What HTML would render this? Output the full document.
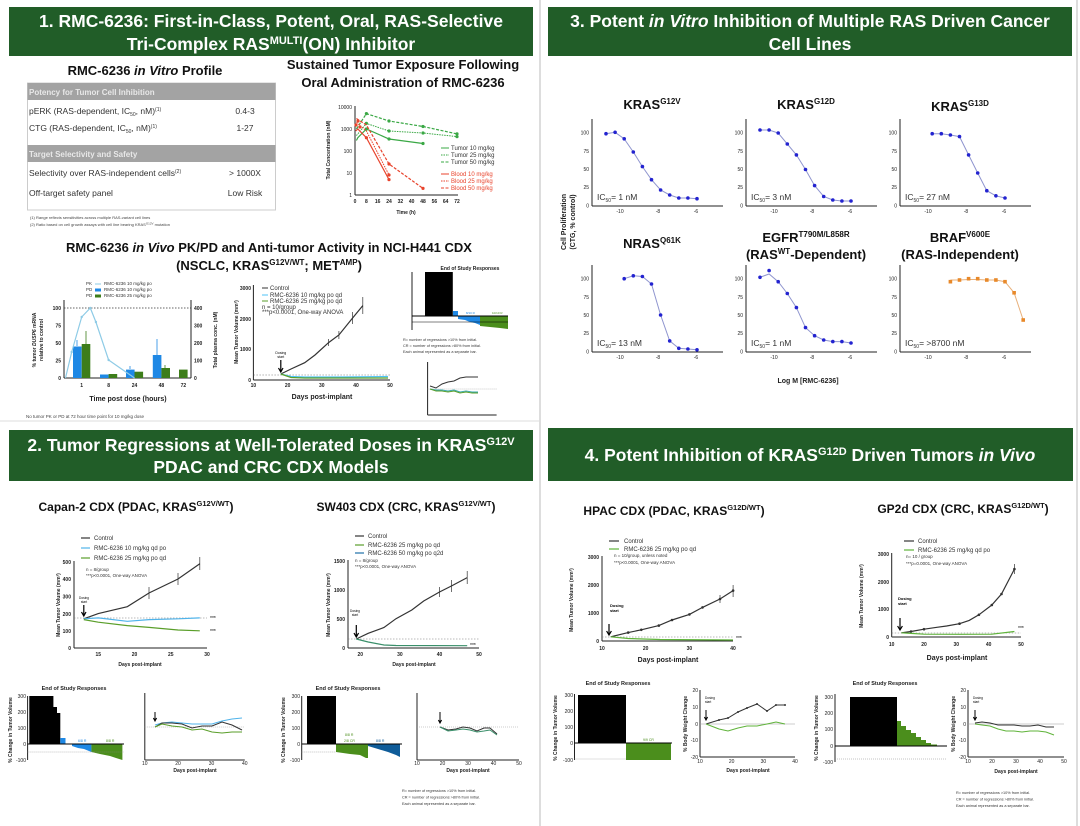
<!DOCTYPE html>
<html><head><meta charset="utf-8"><style>
html,body{margin:0;padding:0;background:#fff;}
svg{display:block;font-family:"Liberation Sans",Arial,sans-serif;}
.h{fill:#fff;font-weight:bold;font-size:17.5px;text-anchor:middle;}
.t{font-weight:bold;font-size:13px;text-anchor:middle;fill:#111;}
.ct{font-weight:bold;font-size:12px;fill:#111;}
.ax{stroke:#222;stroke-width:1;fill:none;}
.tk{font-size:5px;fill:#222;}
.tkm{font-size:5px;fill:#222;text-anchor:middle;}
.tkr{font-size:5px;fill:#222;text-anchor:end;}
.lg{font-size:6px;fill:#333;}
.sm{font-size:4.5px;fill:#333;}
.xl{font-size:7px;font-weight:bold;fill:#222;text-anchor:middle;}
.xls{font-size:5px;font-weight:bold;fill:#222;text-anchor:middle;}
.pt{fill:#2323d0;}
.cv{stroke:#8f95cf;stroke-width:1;fill:none;}
</style></head><body>
<svg width="1080" height="826" viewBox="0 0 1080 826" xmlns="http://www.w3.org/2000/svg">
<rect width="1080" height="826" fill="#fff"/>
<!-- dividers -->
<line x1="540" y1="0" x2="540" y2="826" stroke="#bbb" stroke-width="1"/>
<line x1="1077" y1="0" x2="1077" y2="826" stroke="#bbb" stroke-width="1"/>
<line x1="0" y1="421" x2="540" y2="421" stroke="#ddd" stroke-width="1"/>

<!-- HEADERS -->
<rect x="9" y="7" width="524" height="49" fill="#215d28"/>
<text class="h" x="271" y="27">1. RMC-6236: First-in-Class, Potent, Oral, RAS-Selective</text>
<text class="h" x="271" y="50">Tri-Complex RAS<tspan font-size="11" dy="-6">MULTI</tspan><tspan dy="6">(ON) Inhibitor</tspan></text>

<rect x="548" y="7" width="524" height="49" fill="#215d28"/>
<text class="h" x="810" y="27">3. Potent <tspan font-style="italic">in Vitro</tspan> Inhibition of Multiple RAS Driven Cancer</text>
<text class="h" x="810" y="50">Cell Lines</text>

<rect x="9" y="430" width="524" height="51" fill="#215d28"/>
<text class="h" x="271" y="451">2. Tumor Regressions at Well-Tolerated Doses in KRAS<tspan font-size="11" dy="-6">G12V</tspan></text>
<text class="h" x="271" y="473">PDAC and CRC CDX Models</text>

<rect x="548" y="428" width="525" height="53" fill="#215d28"/>
<text class="h" x="810" y="461">4. Potent Inhibition of KRAS<tspan font-size="11" dy="-6">G12D</tspan><tspan dy="6"> Driven Tumors </tspan><tspan font-style="italic">in Vivo</tspan></text>

<!-- ============ SECTION 1 ============ -->
<text class="t" x="145" y="75">RMC-6236 <tspan font-style="italic">in Vitro</tspan> Profile</text>
<rect x="27.5" y="83" width="248" height="127" fill="#fff" stroke="#ccc"/>
<rect x="27.5" y="83" width="248" height="17" fill="#a3a3a3"/>
<text x="29" y="95" font-size="8" font-weight="bold" fill="#e8e8e8">Potency for Tumor Cell Inhibition</text>
<text x="29" y="114" font-size="8.5" fill="#333">pERK (RAS-dependent, IC<tspan font-size="5" dy="2">50</tspan><tspan dy="-2">, nM)</tspan><tspan font-size="5" dy="-3">(1)</tspan></text>
<text x="245" y="114" font-size="8.5" fill="#333" text-anchor="middle">0.4-3</text>
<text x="29" y="131" font-size="8.5" fill="#333">CTG (RAS-dependent, IC<tspan font-size="5" dy="2">50</tspan><tspan dy="-2">, nM)</tspan><tspan font-size="5" dy="-3">(1)</tspan></text>
<text x="245" y="131" font-size="8.5" fill="#333" text-anchor="middle">1-27</text>
<rect x="27.5" y="145" width="248" height="17" fill="#a3a3a3"/>
<text x="29" y="157" font-size="8" font-weight="bold" fill="#e8e8e8">Target Selectivity and Safety</text>
<text x="29" y="176" font-size="8.5" fill="#333">Selectivity over RAS-independent cells<tspan font-size="5" dy="-3">(2)</tspan></text>
<text x="245" y="176" font-size="8.5" fill="#333" text-anchor="middle">&gt; 1000X</text>
<text x="29" y="196" font-size="8.5" fill="#333">Off-target safety panel</text>
<text x="245" y="196" font-size="8.5" fill="#333" text-anchor="middle">Low Risk</text>
<text x="30" y="219" font-size="4" fill="#444">(1) Range reflects sensitivities across multiple RAS-variant cell lines</text>
<text x="30" y="226" font-size="4" fill="#444">(2) Ratio based on cell growth assays with cell line bearing KRAS<tspan font-size="3" dy="-1.5">G12V</tspan><tspan dy="1.5"> mutation</tspan></text>

<text class="t" x="403" y="69">Sustained Tumor Exposure Following</text>
<text class="t" x="403" y="87">Oral Administration of RMC-6236</text>
<!-- PK chart -->
<g>
<line class="ax" x1="355" y1="106" x2="355" y2="195"/>
<line class="ax" x1="355" y1="195" x2="458" y2="195"/>
<text class="tkr" x="352" y="109">10000</text><text class="tkr" x="352" y="131">1000</text><text class="tkr" x="352" y="153">100</text><text class="tkr" x="352" y="175">10</text><text class="tkr" x="352" y="197">1</text>
<g class="tkm" font-weight="bold"><text x="355" y="203">0</text><text x="366.4" y="203">8</text><text x="377.7" y="203">16</text><text x="389" y="203">24</text><text x="400.4" y="203">32</text><text x="411.7" y="203">40</text><text x="423" y="203">48</text><text x="434.4" y="203">56</text><text x="445.7" y="203">64</text><text x="457" y="203">72</text></g>
<text class="xls" x="406" y="214">Time (h)</text>
<text class="xls" transform="translate(330,150) rotate(-90)">Total Concentration (nM)</text>
<polyline fill="none" stroke="#3aa845" stroke-width="1.2" points="356.4,140.5 357.8,137.7 366.4,129 389,139 423,143.5"/>
<polyline fill="none" stroke="#3aa845" stroke-width="1" stroke-dasharray="1.5,1" points="356.4,135.6 366.4,123.4 389,131 423,133 457,136.6"/>
<polyline fill="none" stroke="#3aa845" stroke-width="1.2" stroke-dasharray="3,1.5" points="356.4,129 366.4,113.6 389,121 423,126.5 457,133.9"/>
<g fill="#3aa845"><circle cx="366.4" cy="129" r="1.6"/><circle cx="389" cy="139" r="1.6"/><circle cx="423" cy="143.5" r="1.6"/><circle cx="366.4" cy="123.4" r="1.6"/><circle cx="389" cy="131" r="1.6"/><circle cx="423" cy="133" r="1.6"/><circle cx="457" cy="136.6" r="1.6"/><circle cx="366.4" cy="113.6" r="1.6"/><circle cx="389" cy="121" r="1.6"/><circle cx="423" cy="126.5" r="1.6"/><circle cx="457" cy="133.9" r="1.6"/></g>
<polyline fill="none" stroke="#e8432c" stroke-width="1.2" points="355.7,131 357.8,129 366.4,137.7 389,179.6"/>
<polyline fill="none" stroke="#e8432c" stroke-width="1" stroke-dasharray="1.5,1" points="356.4,122.4 366.4,131 389,175"/>
<polyline fill="none" stroke="#e8432c" stroke-width="1.2" stroke-dasharray="3,1.5" points="356.4,118.5 366.4,125 389,164 423,188.4"/>
<g fill="#e8432c"><circle cx="356" cy="125" r="1.6"/><circle cx="358" cy="121" r="1.6"/><circle cx="360" cy="127" r="1.6"/><circle cx="366.4" cy="137.7" r="1.6"/><circle cx="389" cy="179.6" r="1.6"/><circle cx="389" cy="175" r="1.6"/><circle cx="389" cy="164" r="1.6"/><circle cx="423" cy="188.4" r="1.6"/></g>
<g class="lg" font-size="5.5">
<line x1="441" y1="148" x2="449" y2="148" stroke="#3aa845"/><text x="451" y="150">Tumor 10 mg/kg</text>
<line x1="441" y1="155" x2="449" y2="155" stroke="#3aa845" stroke-dasharray="1.5,1"/><text x="451" y="157">Tumor 25 mg/kg</text>
<line x1="441" y1="162" x2="449" y2="162" stroke="#3aa845" stroke-dasharray="3,1.5"/><text x="451" y="164">Tumor 50 mg/kg</text>
<line x1="441" y1="174" x2="449" y2="174" stroke="#e8432c"/><text x="451" y="176" fill="#e8432c">Blood 10 mg/kg</text>
<line x1="441" y1="181" x2="449" y2="181" stroke="#e8432c" stroke-dasharray="1.5,1"/><text x="451" y="183" fill="#e8432c">Blood 25 mg/kg</text>
<line x1="441" y1="188" x2="449" y2="188" stroke="#e8432c" stroke-dasharray="3,1.5"/><text x="451" y="190" fill="#e8432c">Blood 50 mg/kg</text>
</g>
</g>

<text class="t" x="269" y="252">RMC-6236 <tspan font-style="italic">in Vivo</tspan> PK/PD and Anti-tumor Activity in NCI-H441 CDX</text>
<text class="t" x="269" y="270">(NSCLC, KRAS<tspan font-size="8" dy="-5">G12V/WT</tspan><tspan dy="5">; MET</tspan><tspan font-size="8" dy="-5">AMP</tspan><tspan dy="5">)</tspan></text>

<!-- PD chart -->
<g>
<line class="ax" x1="64" y1="300" x2="64" y2="378"/>
<line class="ax" x1="191" y1="300" x2="191" y2="378"/>
<line class="ax" x1="64" y1="378" x2="191" y2="378"/>
<line x1="64" y1="308" x2="191" y2="308" stroke="#333" stroke-width="0.7" stroke-dasharray="1.5,1.5"/>
<g class="tkr" font-weight="bold"><text x="61" y="310">100</text><text x="61" y="327.5">75</text><text x="61" y="345">50</text><text x="61" y="362.5">25</text><text x="61" y="380">0</text></g>
<g class="tk" font-weight="bold"><text x="194" y="310">400</text><text x="194" y="327.5">300</text><text x="194" y="345">200</text><text x="194" y="362.5">100</text><text x="194" y="380">0</text></g>
<rect x="73" y="346.5" width="8.6" height="31.5" fill="#1e88e5"/><rect x="81.7" y="344" width="8.6" height="34" fill="#3d7d1a"/>
<rect x="100" y="374.5" width="8.6" height="3.5" fill="#1e88e5"/><rect x="108.6" y="374" width="8.6" height="4" fill="#3d7d1a"/>
<rect x="126" y="369.6" width="8.6" height="8.4" fill="#1e88e5"/><rect x="134.5" y="371.7" width="8.6" height="6.3" fill="#3d7d1a"/>
<rect x="152.8" y="355" width="8.6" height="23" fill="#1e88e5"/><rect x="161.4" y="368" width="8.6" height="10" fill="#3d7d1a"/>
<rect x="179" y="369.6" width="8.6" height="8.4" fill="#3d7d1a"/>
<g stroke="#1e88e5" stroke-width="0.8"><line x1="77" y1="346" x2="77" y2="340"/><line x1="157" y1="355" x2="157" y2="339"/><line x1="130" y1="369" x2="130" y2="366"/></g>
<g stroke="#3d7d1a" stroke-width="0.8"><line x1="86" y1="344" x2="86" y2="331"/><line x1="165" y1="368" x2="165" y2="365"/></g>
<polyline fill="none" stroke="#8ecbe6" stroke-width="1.2" points="65.5,378 71.7,352 81.7,317 90.3,308 95.9,322 108.6,360 134.5,378"/>
<g fill="#8ecbe6"><circle cx="71.7" cy="352" r="1.2"/><circle cx="81.7" cy="317" r="1.2"/><circle cx="90.3" cy="308" r="1.2"/><circle cx="95.9" cy="322" r="1.2"/><circle cx="108.6" cy="360" r="1.2"/></g>
<g class="tkm" font-size="6" font-weight="bold"><text x="81.7" y="387">1</text><text x="108.6" y="387">8</text><text x="134.5" y="387">24</text><text x="161.4" y="387">48</text><text x="183.4" y="387">72</text></g>
<text class="xl" x="128" y="401">Time post dose (hours)</text>
<text class="xls" transform="translate(36,340) rotate(-90)">% tumor <tspan font-style="italic">DUSP6</tspan> mRNA</text>
<text class="xls" transform="translate(43,340) rotate(-90)">relative to control</text>
<text class="xls" transform="translate(217,340) rotate(-90)">Total plasma conc. (nM)</text>
<g class="sm" font-size="3.5"><text x="86" y="285">PK</text><line x1="95" y1="284" x2="101" y2="284" stroke="#8ecbe6"/><text x="104" y="285">RMC-6236 10 mg/kg po</text>
<text x="86" y="291">PD</text><rect x="95" y="288.5" width="6" height="3" fill="#1e88e5"/><text x="104" y="291">RMC-6236 10 mg/kg po</text>
<text x="86" y="297">PD</text><rect x="95" y="294.5" width="6" height="3" fill="#3d7d1a"/><text x="104" y="297">RMC-6236 25 mg/kg po</text></g>
</g>
<text x="26" y="418" font-size="4.5" fill="#444">No tumor PK or PD at 72 hour time point for 10 mg/kg dose</text>

<!-- H441 tumor volume -->
<g>
<line class="ax" x1="253.4" y1="285" x2="253.4" y2="380"/>
<line class="ax" x1="253.4" y1="380" x2="390" y2="380"/>
<g class="tkr" font-weight="bold"><text x="251" y="290">3000</text><text x="251" y="321">2000</text><text x="251" y="351">1000</text><text x="251" y="382">0</text></g>
<g class="tkm" font-weight="bold"><text x="253.4" y="387">10</text><text x="287.6" y="387">20</text><text x="321.8" y="387">30</text><text x="356" y="387">40</text><text x="390" y="387">50</text></g>
<text class="xl" x="322" y="399" font-size="6">Days post-implant</text>
<text class="xls" transform="translate(238,332) rotate(-90)">Mean Tumor Volume (mm³)</text>
<line x1="253.4" y1="375" x2="390" y2="375" stroke="#666" stroke-width="0.6" stroke-dasharray="1.5,1.5"/>
<polyline fill="none" stroke="#333" stroke-width="1.2" points="280.8,374 291,369 304.7,362.7 315,355 328.6,342.6 338.9,335 352.6,318 362.8,305.6"/>
<g stroke="#333" stroke-width="0.7"><line x1="362.8" y1="297" x2="362.8" y2="314"/><line x1="352.6" y1="312" x2="352.6" y2="324"/><line x1="338.9" y1="331" x2="338.9" y2="339"/><line x1="328.6" y1="339" x2="328.6" y2="346"/></g>
<polyline fill="none" stroke="#4fc3f7" stroke-width="1.2" points="280.8,374 291,376.5 304.7,377 340,377 388,376.5"/>
<polyline fill="none" stroke="#5a9e2a" stroke-width="1.2" points="280.8,374 291,377.5 304.7,378 340,378 388,378"/>
<path d="M280.8,360 L280.8,371 M278.5,368 L280.8,372 L283,368" stroke="#000" fill="none" stroke-width="1.2"/>
<text x="280.8" y="354" font-size="3.5" text-anchor="middle">Dosing</text><text x="280.8" y="358" font-size="3.5" text-anchor="middle">start</text>
<g class="lg" font-size="4.5"><line x1="262" y1="288" x2="268" y2="288" stroke="#333"/><text x="270" y="290">Control</text>
<line x1="262" y1="295" x2="268" y2="295" stroke="#4fc3f7"/><text x="270" y="297">RMC-6236 10 mg/kg po qd</text>
<line x1="262" y1="301" x2="268" y2="301" stroke="#5a9e2a"/><text x="270" y="303">RMC-6236 25 mg/kg po qd</text>
<text x="262" y="309">n = 10/group</text><text x="262" y="314">***p&lt;0.0001, One-way ANOVA</text></g>
</g>

<!-- H441 waterfall -->
<text x="470" y="270" font-size="5" font-weight="bold" text-anchor="middle" fill="#222">End of Study Responses</text>
<line class="ax" x1="412" y1="272" x2="412" y2="330"/>
<rect x="425" y="272" width="27.8" height="44" fill="#000"/>
<path d="M453,316 L453,311 L458,311 L458,316 Z" fill="#1e88e5"/>
<path d="M458,316 L458,319 L465,320 L470,322 L475,323 L480,325 L480,316 Z" fill="#1e88e5"/>
<path d="M480,316 L480,326 L490,327 L500,328 L508,329 L508,316 Z" fill="#4b8e1c"/>
<line x1="412" y1="316" x2="508" y2="316" stroke="#000" stroke-width="1"/>
<line x1="412" y1="322" x2="508" y2="322" stroke="#000" stroke-width="0.5"/>
<text x="466" y="314" font-size="3" fill="#1e88e5">8/10 R</text><text x="492" y="314" font-size="3" fill="#4b8e1c">10/10 R</text>
<g font-size="3.8" fill="#333"><text x="403" y="341">R= number of regressions &gt;10% from initial.</text><text x="403" y="347">CR = number of regressions &gt;80% from initial.</text><text x="403" y="353">Each animal represented as a separate bar.</text></g>
<!-- H441 BW -->
<line class="ax" x1="427.6" y1="362" x2="427.6" y2="415"/><line class="ax" x1="427.6" y1="415" x2="496.6" y2="415"/>
<line x1="427.6" y1="389" x2="496.6" y2="389" stroke="#999" stroke-width="0.5" stroke-dasharray="1,1"/>
<polyline fill="none" stroke="#333" stroke-width="1" points="430,386 436,388 442,384 448,382 454,381 460,378 466,377 472,377 478,377"/>
<polyline fill="none" stroke="#3aaab0" stroke-width="1" points="430,389 436,390 442,390 448,391 454,390 460,392 466,391 472,392 478,392"/>
<polyline fill="none" stroke="#5a9e2a" stroke-width="1" points="430,389 436,391 442,391 448,392 454,391 460,393 466,392 472,393 478,393"/>

<!-- ============ SECTION 3 ============ -->
<text class="xl" transform="translate(566,222) rotate(-90)" font-size="8">Cell Proliferation</text>
<text class="xl" transform="translate(575,222) rotate(-90)" font-size="8">(CTG, % control)</text>
<text class="xl" x="808" y="383" font-size="8.5">Log M [RMC-6236]</text>

<text class="t" x="652" y="109">KRAS<tspan font-size="8" dy="-5">G12V</tspan></text>
<text class="t" x="806" y="109">KRAS<tspan font-size="8" dy="-5">G12D</tspan></text>
<text class="t" x="960" y="111">KRAS<tspan font-size="8" dy="-5">G13D</tspan></text>
<text class="t" x="652" y="248">NRAS<tspan font-size="8" dy="-5">Q61K</tspan></text>
<text class="t" x="806" y="242">EGFR<tspan font-size="8" dy="-5">T790M/L858R</tspan></text>
<text class="t" x="806" y="259">(RAS<tspan font-size="8" dy="-5">WT</tspan><tspan dy="5">-Dependent)</tspan></text>
<text class="t" x="960" y="242">BRAF<tspan font-size="8" dy="-5">V600E</tspan></text>
<text class="t" x="960" y="259">(RAS-Independent)</text>

<!-- panel frames: row1 -->
<g id="p1">
<line class="ax" x1="592" y1="119" x2="592" y2="206"/><line class="ax" x1="592" y1="206" x2="723" y2="206"/>
<g class="tkr" font-size="4"><text x="589" y="134.5">100</text><text x="589" y="152.8">75</text><text x="589" y="171">50</text><text x="589" y="189">25</text><text x="589" y="207.5">0</text></g>
<g class="tkm" font-size="4"><text x="620" y="213">-10</text><text x="658" y="213">-8</text><text x="696" y="213">-6</text></g>
</g>
<use href="#p1" x="154"/><use href="#p1" x="308"/>
<use href="#p1" y="146"/><use href="#p1" x="154" y="146"/><use href="#p1" x="308" y="146"/>

<g font-size="8.5" fill="#333">
<text x="597" y="200">IC<tspan font-size="5" dy="2">50</tspan><tspan dy="-2">= 1 nM</tspan></text>
<text x="751" y="200">IC<tspan font-size="5" dy="2">50</tspan><tspan dy="-2">= 3 nM</tspan></text>
<text x="905" y="200">IC<tspan font-size="5" dy="2">50</tspan><tspan dy="-2">= 27 nM</tspan></text>
<text x="597" y="346">IC<tspan font-size="5" dy="2">50</tspan><tspan dy="-2">= 13 nM</tspan></text>
<text x="751" y="346">IC<tspan font-size="5" dy="2">50</tspan><tspan dy="-2">= 1 nM</tspan></text>
<text x="905" y="346">IC<tspan font-size="5" dy="2">50</tspan><tspan dy="-2">= &gt;8700 nM</tspan></text>
</g>

<!-- KRAS G12V -->
<polyline class="cv" points="606,133.7 615.1,132.3 624.2,138.8 633.3,152 642.4,166.6 651.5,179.7 660.6,190 669.7,195 678.8,198 687.9,198 697,198.7"/>
<g class="pt"><circle cx="606" cy="133.7" r="1.8"/><circle cx="615.1" cy="132.3" r="1.8"/><circle cx="624.2" cy="138.8" r="1.8"/><circle cx="633.3" cy="152" r="1.8"/><circle cx="642.4" cy="166.6" r="1.8"/><circle cx="651.5" cy="179.7" r="1.8"/><circle cx="660.6" cy="190" r="1.8"/><circle cx="669.7" cy="195" r="1.8"/><circle cx="678.8" cy="198" r="1.8"/><circle cx="687.9" cy="198" r="1.8"/><circle cx="697" cy="198.7" r="1.8"/></g>
<!-- KRAS G12D -->
<g transform="translate(154,0)">
<polyline class="cv" points="606,130 615.1,130 624.2,133 633.3,144 642.4,154.9 651.5,169.5 660.6,185.6 669.7,196.5 678.8,200 687.9,201 697,201"/>
<g class="pt"><circle cx="606" cy="130" r="1.8"/><circle cx="615.1" cy="130" r="1.8"/><circle cx="624.2" cy="133" r="1.8"/><circle cx="633.3" cy="144" r="1.8"/><circle cx="642.4" cy="154.9" r="1.8"/><circle cx="651.5" cy="169.5" r="1.8"/><circle cx="660.6" cy="185.6" r="1.8"/><circle cx="669.7" cy="196.5" r="1.8"/><circle cx="678.8" cy="200" r="1.8"/><circle cx="687.9" cy="201" r="1.8"/><circle cx="697" cy="201" r="1.8"/></g>
</g>
<!-- KRAS G13D -->
<g transform="translate(308,0)">
<polyline class="cv" points="624.2,133.7 633.3,133.7 642.4,135 651.5,136.6 660.6,154.9 669.7,173 678.8,190.7 687.9,195.8 697,198"/>
<g class="pt"><circle cx="624.2" cy="133.7" r="1.8"/><circle cx="633.3" cy="133.7" r="1.8"/><circle cx="642.4" cy="135" r="1.8"/><circle cx="651.5" cy="136.6" r="1.8"/><circle cx="660.6" cy="154.9" r="1.8"/><circle cx="669.7" cy="173" r="1.8"/><circle cx="678.8" cy="190.7" r="1.8"/><circle cx="687.9" cy="195.8" r="1.8"/><circle cx="697" cy="198" r="1.8"/></g>
</g>
<!-- NRAS -->
<polyline class="cv" points="624.2,278.7 633.3,275.8 642.4,276.5 651.5,284 660.6,315 669.7,340.9 678.8,348.3 687.9,349 697,349.8"/>
<g class="pt"><circle cx="624.2" cy="278.7" r="1.8"/><circle cx="633.3" cy="275.8" r="1.8"/><circle cx="642.4" cy="276.5" r="1.8"/><circle cx="651.5" cy="284" r="1.8"/><circle cx="660.6" cy="315" r="1.8"/><circle cx="669.7" cy="340.9" r="1.8"/><circle cx="678.8" cy="348.3" r="1.8"/><circle cx="687.9" cy="349" r="1.8"/><circle cx="697" cy="349.8" r="1.8"/></g>
<!-- EGFR -->
<g transform="translate(154,0)">
<polyline class="cv" points="606,277.3 615.1,274 624.2,281.7 633.3,293.5 642.4,307.6 651.5,327.6 660.6,335.7 669.7,340 678.8,341.6 687.9,341.6 697,343"/>
<g class="pt"><circle cx="606" cy="277.3" r="1.8"/><circle cx="615.1" cy="270.6" r="1.8"/><circle cx="624.2" cy="281.7" r="1.8"/><circle cx="633.3" cy="293.5" r="1.8"/><circle cx="642.4" cy="307.6" r="1.8"/><circle cx="651.5" cy="327.6" r="1.8"/><circle cx="660.6" cy="335.7" r="1.8"/><circle cx="669.7" cy="340" r="1.8"/><circle cx="678.8" cy="341.6" r="1.8"/><circle cx="687.9" cy="341.6" r="1.8"/><circle cx="697" cy="343" r="1.8"/></g>
</g>
<!-- BRAF -->
<g transform="translate(308,0)">
<polyline fill="none" stroke="#e8b07a" stroke-width="1" points="642.4,280 651.5,280 660.6,279.5 669.7,279.5 678.8,280 687.9,280 697,281.7 706.1,292.8 715.2,320"/>
<g fill="#e8892a"><rect x="640.6" y="279.9" width="3.6" height="3.6"/><rect x="649.7" y="278.2" width="3.6" height="3.6"/><rect x="658.8" y="276.9" width="3.6" height="3.6"/><rect x="667.9" y="276.9" width="3.6" height="3.6"/><rect x="677" y="278.2" width="3.6" height="3.6"/><rect x="686.1" y="278.2" width="3.6" height="3.6"/><rect x="695.2" y="279.9" width="3.6" height="3.6"/><rect x="704.3" y="291" width="3.6" height="3.6"/><rect x="713.4" y="318.2" width="3.6" height="3.6"/></g>
</g>

<!-- ============ SECTION 2 ============ -->
<text class="ct" x="136" y="511" text-anchor="middle">Capan-2 CDX (PDAC, KRAS<tspan font-size="7.5" dy="-5">G12V/WT</tspan><tspan dy="5">)</tspan></text>
<text class="ct" x="406" y="511" text-anchor="middle">SW403 CDX (CRC, KRAS<tspan font-size="7.5" dy="-5">G12V/WT</tspan><tspan dy="5">)</tspan></text>
<!-- Capan chart -->
<line class="ax" x1="74" y1="561" x2="74" y2="648"/><line class="ax" x1="74" y1="648" x2="207" y2="648"/>
<g class="tkr" font-weight="bold"><text x="71" y="564">500</text><text x="71" y="581">400</text><text x="71" y="598.5">300</text><text x="71" y="616">200</text><text x="71" y="633">100</text><text x="71" y="650">0</text></g>
<g class="tkm" font-weight="bold"><text x="98.3" y="656">15</text><text x="134.5" y="656">20</text><text x="170.8" y="656">25</text><text x="207" y="656">30</text></g>
<text class="xls" x="140" y="666" font-size="5.5">Days post-implant</text>
<text class="xls" transform="translate(60,605) rotate(-90)">Mean Tumor Volume (mm³)</text>
<line x1="74" y1="618" x2="207" y2="618" stroke="#777" stroke-width="0.6" stroke-dasharray="1.5,1.5"/>
<polyline fill="none" stroke="#333" stroke-width="1.2" points="83.8,618.8 98.3,613.6 127.3,606.7 149,593 178,579 199.8,563.7"/>
<polyline fill="none" stroke="#4fb3ea" stroke-width="1.2" points="83.8,618.8 98.3,617.9 127.3,621.3 149,619.6 178,618.8 199.8,617.9"/>
<polyline fill="none" stroke="#5a9e2a" stroke-width="1.2" points="83.8,619.6 98.3,622.2 127.3,625.6 149,627.4 178,630 199.8,630.8"/>
<g stroke="#333" stroke-width="0.7"><line x1="149" y1="587" x2="149" y2="599"/><line x1="178" y1="573" x2="178" y2="585"/><line x1="199.8" y1="557" x2="199.8" y2="570"/></g>
<text x="210" y="620" font-size="5">***</text><text x="210" y="633" font-size="5">***</text>
<path d="M83.8,605 L83.8,615 M81.5,612 L83.8,616 L86,612" stroke="#000" fill="none" stroke-width="1.2"/>
<text x="84" y="599" font-size="3.2" text-anchor="middle">Dosing</text><text x="84" y="603" font-size="3.2" text-anchor="middle">start</text>
<g class="lg"><line x1="81" y1="538" x2="90" y2="538" stroke="#333" stroke-width="1.2"/><text x="94" y="540">Control</text>
<line x1="81" y1="548" x2="90" y2="548" stroke="#4fb3ea" stroke-width="1.2"/><text x="94" y="550">RMC-6236 10 mg/kg qd po</text>
<line x1="81" y1="558" x2="90" y2="558" stroke="#5a9e2a" stroke-width="1.2"/><text x="94" y="560">RMC-6236 25 mg/kg po qd</text>
<text x="86" y="571" font-size="4.5">n = 8/group</text><text x="86" y="577" font-size="4.5">***p&lt;0.0001, One-way ANOVA</text></g>
<!-- SW403 chart -->
<line class="ax" x1="348" y1="560" x2="348" y2="648"/><line class="ax" x1="348" y1="648" x2="479" y2="648"/>
<g class="tkr" font-weight="bold"><text x="345" y="563">1500</text><text x="345" y="592">1000</text><text x="345" y="621">500</text><text x="345" y="650">0</text></g>
<g class="tkm" font-weight="bold"><text x="360.3" y="656">20</text><text x="399.9" y="656">30</text><text x="439.5" y="656">40</text><text x="479" y="656">50</text></g>
<text class="xls" x="414" y="666" font-size="5.5">Days post-implant</text>
<text class="xls" transform="translate(330,605) rotate(-90)">Mean Tumor Volume (mm³)</text>
<line x1="348" y1="639" x2="479" y2="639" stroke="#777" stroke-width="0.6" stroke-dasharray="1.5,1.5"/>
<polyline fill="none" stroke="#333" stroke-width="1.2" points="356.3,639 368.2,633.3 384,627.5 396,618.7 411.8,610 423.7,601 439.5,592 451.4,586 467.2,577.6"/>
<g stroke="#333" stroke-width="0.7"><line x1="467.2" y1="571" x2="467.2" y2="584"/><line x1="451.4" y1="580" x2="451.4" y2="592"/><line x1="439.5" y1="587" x2="439.5" y2="597"/></g>
<polyline fill="none" stroke="#3a8f6a" stroke-width="1.2" points="356.3,639 368.2,642 384,645 396,645.5 467.2,645.7"/>
<text x="470" y="647" font-size="5">***</text>
<path d="M356.3,625 L356.3,636 M354,633 L356.3,637 L358.6,633" stroke="#000" fill="none" stroke-width="1.2"/>
<text x="355" y="612" font-size="3.2" text-anchor="middle">Dosing</text><text x="355" y="616" font-size="3.2" text-anchor="middle">start</text>
<g class="lg"><line x1="355" y1="536" x2="364" y2="536" stroke="#333" stroke-width="1.2"/><text x="368" y="538">Control</text>
<line x1="355" y1="545" x2="364" y2="545" stroke="#5a9e2a" stroke-width="1.2"/><text x="368" y="547">RMC-6236 25 mg/kg po qd</text>
<line x1="355" y1="553" x2="364" y2="553" stroke="#1e6fa8" stroke-width="1.2"/><text x="368" y="555">RMC-6236 50 mg/kg po q2d</text>
<text x="355" y="562" font-size="4.5">n = 8/group</text><text x="355" y="568" font-size="4.5">***p&lt;0.0001, One-way ANOVA</text></g>

<!-- Capan waterfall -->
<text x="74" y="690" font-size="5.5" font-weight="bold" text-anchor="middle" fill="#222">End of Study Responses</text>
<line class="ax" x1="27.6" y1="696" x2="27.6" y2="760"/>
<g class="tkr" font-size="3.5"><text x="26" y="698">300</text><text x="26" y="714">200</text><text x="26" y="730">100</text><text x="26" y="746">0</text><text x="26" y="762">-100</text></g>
<text class="xls" font-size="4" transform="translate(12,730) rotate(-90)">% Change in Tumor Volume</text>
<path d="M29.3,744 L29.3,696 L53.4,696 L53.4,707 L57,707 L57,713 L60.3,713 L60.3,744 Z" fill="#000"/>
<rect x="60.3" y="738" width="5.2" height="6" fill="#1e88e5"/>
<path d="M72,744 L72,746 L78,748 L84,749 L91.4,752 L91.4,744 Z" fill="#1e88e5"/>
<path d="M91.4,744 L91.4,752 L100,754 L110,756 L116,758 L122.4,760 L122.4,744 Z" fill="#4b8e1c"/>
<line x1="27.6" y1="744" x2="124" y2="744" stroke="#000" stroke-width="1"/>
<line x1="27.6" y1="752" x2="124" y2="752" stroke="#888" stroke-width="0.5" stroke-dasharray="1,1"/>
<text x="78" y="742" font-size="3.5" fill="#1e88e5">6/8 R</text><text x="106" y="742" font-size="3.5" fill="#4b8e1c">8/8 R</text>
<!-- Capan BW -->
<line class="ax" x1="144.8" y1="693" x2="144.8" y2="760"/><line class="ax" x1="144.8" y1="760" x2="244.8" y2="760"/>
<line x1="144.8" y1="727" x2="244.8" y2="727" stroke="#999" stroke-width="0.5" stroke-dasharray="1,1"/>
<g class="tkm" font-size="3.5"><text x="144.8" y="765">10</text><text x="178" y="765">20</text><text x="211.5" y="765">30</text><text x="244.8" y="765">40</text></g>
<text class="xls" x="195" y="772" font-size="3.5">Days post-implant</text>
<polyline fill="none" stroke="#4fb3ea" stroke-width="1" points="155,725 162,723 172,722 182,723 192,724 202,724 212,724 222,721 232,719 242,718"/>
<polyline fill="none" stroke="#333" stroke-width="1" points="155,727 162,723 172,723 182,724 192,728 202,726 212,726 222,722 232,725 242,730"/>
<polyline fill="none" stroke="#5a9e2a" stroke-width="1" points="155,727 162,724 172,726 182,727 192,730 202,729 212,732 222,733 232,732 242,732"/>
<path d="M155,712 L155,720 M153.4,718 L155,721 L156.6,718" stroke="#000" fill="none" stroke-width="1"/>
<!-- SW403 waterfall -->
<text x="348" y="690" font-size="5.5" font-weight="bold" text-anchor="middle" fill="#222">End of Study Responses</text>
<line class="ax" x1="301.7" y1="696" x2="301.7" y2="760"/>
<g class="tkr" font-size="3.5"><text x="300" y="698">300</text><text x="300" y="714">200</text><text x="300" y="730">100</text><text x="300" y="746">0</text><text x="300" y="762">-100</text></g>
<text class="xls" font-size="4" transform="translate(285,730) rotate(-90)">% Change in Tumor Volume</text>
<rect x="307" y="696" width="29" height="48" fill="#000"/>
<path d="M336,744 L336,752 L350,754 L360,755 L366,758 L368,758 L368,744 Z" fill="#4b8e1c"/>
<path d="M368,744 L368,746 L378,749 L388,752 L396,755 L400,757 L400,744 Z" fill="#0f5c99"/>
<line x1="301.7" y1="744" x2="402" y2="744" stroke="#000" stroke-width="1"/>
<line x1="301.7" y1="752" x2="336" y2="752" stroke="#888" stroke-width="0.5" stroke-dasharray="1,1"/>
<text x="345" y="736" font-size="3.5" fill="#4b8e1c">8/8 R</text><text x="344" y="742" font-size="3.5" fill="#4b8e1c">2/8 CR</text><text x="376" y="742" font-size="3.5" fill="#0f5c99">8/8 R</text>
<!-- SW403 BW -->
<line class="ax" x1="417" y1="693" x2="417" y2="760"/><line class="ax" x1="417" y1="760" x2="519" y2="760"/>
<line x1="417" y1="727" x2="519" y2="727" stroke="#999" stroke-width="0.5" stroke-dasharray="1,1"/>
<g class="tkm" font-size="3.5"><text x="417" y="765">10</text><text x="442.5" y="765">20</text><text x="468" y="765">30</text><text x="493.5" y="765">40</text><text x="519" y="765">50</text></g>
<text class="xls" x="468" y="772" font-size="3.5">Days post-implant</text>
<polyline fill="none" stroke="#333" stroke-width="1" points="440,727 448,730 456,729 463,727 470,728 477,731 484,728 490,728 497,734"/>
<polyline fill="none" stroke="#3a8f6a" stroke-width="1" points="440,727 448,731 456,730 463,729 470,730 477,732 484,731 490,730 497,735"/>
<path d="M440,712 L440,722 M438.4,720 L440,723 L441.6,720" stroke="#000" fill="none" stroke-width="1"/>
<g font-size="3.8" fill="#333"><text x="402" y="792">R= number of regressions &gt;10% from initial.</text><text x="402" y="798.5">CR = number of regressions &gt;80% from initial.</text><text x="402" y="805">Each animal represented as a separate bar.</text></g>

<!-- ============ SECTION 4 ============ -->
<text class="ct" x="674" y="515" text-anchor="middle">HPAC CDX (PDAC, KRAS<tspan font-size="7.5" dy="-5">G12D/WT</tspan><tspan dy="5">)</tspan></text>
<text class="ct" x="963" y="513" text-anchor="middle">GP2d CDX (CRC, KRAS<tspan font-size="7.5" dy="-5">G12D/WT</tspan><tspan dy="5">)</tspan></text>
<!-- HPAC chart -->
<line class="ax" x1="602" y1="556" x2="602" y2="641"/><line class="ax" x1="602" y1="641" x2="733" y2="641"/>
<g class="tkr" font-weight="bold" font-size="6"><text x="599" y="559">3000</text><text x="599" y="587">2000</text><text x="599" y="615">1000</text><text x="599" y="643">0</text></g>
<g class="tkm" font-weight="bold" font-size="6"><text x="602" y="650">10</text><text x="645.7" y="650">20</text><text x="689.4" y="650">30</text><text x="733" y="650">40</text></g>
<text class="xl" x="668" y="662" font-size="6.5">Days post-implant</text>
<text class="xls" transform="translate(573,600) rotate(-90)" font-size="6">Mean Tumor Volume (mm³)</text>
<line x1="602" y1="637" x2="733" y2="637" stroke="#777" stroke-width="0.6" stroke-dasharray="1.5,1.5"/>
<polyline fill="none" stroke="#333" stroke-width="1.2" points="610.7,636.8 628.2,632.6 641.3,629.8 658.8,625.6 672,620 689.4,614.4 702.5,607.4 720,599 733.1,590.6"/>
<g fill="#333"><circle cx="628.2" cy="632.6" r="1.3"/><circle cx="641.3" cy="629.8" r="1.3"/><circle cx="658.8" cy="625.6" r="1.3"/><circle cx="672" cy="620" r="1.3"/><circle cx="689.4" cy="614.4" r="1.3"/><circle cx="702.5" cy="607.4" r="1.3"/><circle cx="720" cy="599" r="1.3"/><circle cx="733.1" cy="590.6" r="1.3"/></g>
<g stroke="#333" stroke-width="0.7"><line x1="733.1" y1="585" x2="733.1" y2="597"/><line x1="720" y1="595" x2="720" y2="603"/></g>
<polyline fill="none" stroke="#5fb33a" stroke-width="1.2" points="610.7,636.8 628.2,638.5 660,639.5 733,640"/>
<text x="736" y="640" font-size="5">***</text>
<path d="M609,624 L609,634 M606.6,631 L609,635 L611.4,631" stroke="#000" fill="none" stroke-width="1.2"/>
<text x="610" y="607" font-size="4" font-weight="bold">Dosing</text><text x="610" y="612" font-size="4" font-weight="bold">start</text>
<g class="lg"><line x1="609" y1="541" x2="619" y2="541" stroke="#333" stroke-width="1.2"/><text x="624" y="543">Control</text>
<line x1="609" y1="549" x2="619" y2="549" stroke="#5fb33a" stroke-width="1.2"/><text x="624" y="551">RMC-6236 25 mg/kg po qd</text>
<text x="614" y="557" font-size="4.5">n = 10/group, unless noted</text><text x="614" y="564" font-size="4.5">***p&lt;0.0001, One-way ANOVA</text></g>
<!-- GP2d chart -->
<line class="ax" x1="891.7" y1="553" x2="891.7" y2="637"/><line class="ax" x1="891.7" y1="637" x2="1021" y2="637"/>
<g class="tkr" font-weight="bold" font-size="6"><text x="889" y="556">3000</text><text x="889" y="584">2000</text><text x="889" y="611">1000</text><text x="889" y="639">0</text></g>
<g class="tkm" font-weight="bold" font-size="6"><text x="891.7" y="646">10</text><text x="924" y="646">20</text><text x="956.3" y="646">30</text><text x="988.6" y="646">40</text><text x="1021" y="646">50</text></g>
<text class="xl" x="957" y="660" font-size="6.5">Days post-implant</text>
<text class="xls" transform="translate(863,596) rotate(-90)" font-size="6">Mean Tumor Volume (mm³)</text>
<line x1="891.7" y1="633" x2="1021" y2="633" stroke="#777" stroke-width="0.6" stroke-dasharray="1.5,1.5"/>
<polyline fill="none" stroke="#333" stroke-width="1.2" points="901.4,632.8 911,631.5 924,629.2 936.9,627.3 946.6,626 959.5,623.7 969.2,620.4 978.9,614.8 991.8,605 1001.5,594 1014.4,569.1"/>
<g fill="#333"><circle cx="911" cy="631.5" r="1.3"/><circle cx="924" cy="629.2" r="1.3"/><circle cx="959.5" cy="623.7" r="1.3"/><circle cx="978.9" cy="614.8" r="1.3"/><circle cx="991.8" cy="605" r="1.3"/><circle cx="1001.5" cy="594" r="1.3"/><circle cx="1014.4" cy="569.1" r="1.3"/></g>
<g stroke="#333" stroke-width="0.7"><line x1="1014.4" y1="564" x2="1014.4" y2="574"/></g>
<polyline fill="none" stroke="#5fb33a" stroke-width="1.2" points="901.4,632.8 911,633.4 924,634.2 960,634.3 991.8,634.2 1014.4,631.5"/>
<text x="1018" y="630" font-size="5">***</text>
<path d="M900,618 L900,629 M897.6,626 L900,630 L902.4,626" stroke="#000" fill="none" stroke-width="1.2"/>
<text x="898" y="600" font-size="4" font-weight="bold">Dosing</text><text x="898" y="605" font-size="4" font-weight="bold">start</text>
<g class="lg"><line x1="904" y1="541" x2="914" y2="541" stroke="#333" stroke-width="1.2"/><text x="918" y="543">Control</text>
<line x1="904" y1="550" x2="914" y2="550" stroke="#5fb33a" stroke-width="1.2"/><text x="918" y="552">RMC-6236 25 mg/kg qd po</text>
<text x="906" y="558" font-size="4.5">n= 10 / group</text><text x="906" y="565" font-size="4.5">***p=0.0001, One-way ANOVA</text></g>

<!-- HPAC waterfall -->
<text x="618" y="685" font-size="5.5" font-weight="bold" text-anchor="middle" fill="#222">End of Study Responses</text>
<line class="ax" x1="574.5" y1="694" x2="574.5" y2="760"/>
<g class="tkr" font-size="4"><text x="573" y="697">300</text><text x="573" y="713">200</text><text x="573" y="729">100</text><text x="573" y="745">0</text><text x="573" y="762">-100</text></g>
<text class="xls" font-size="4" transform="translate(557,728) rotate(-90)">% Change in Tumor Volume</text>
<rect x="578" y="695" width="48" height="48" fill="#000"/>
<rect x="626" y="743" width="45" height="17" fill="#4b8e1c"/>
<line x1="574.5" y1="743" x2="672" y2="743" stroke="#000" stroke-width="1"/>
<line x1="574.5" y1="759" x2="626" y2="759" stroke="#888" stroke-width="0.5" stroke-dasharray="1,1"/>
<text x="643" y="741" font-size="3.5" fill="#4b8e1c">9/9 CR</text>
<!-- HPAC BW -->
<line class="ax" x1="700" y1="690" x2="700" y2="757"/><line class="ax" x1="700" y1="757" x2="795" y2="757"/>
<line x1="700" y1="724" x2="795" y2="724" stroke="#999" stroke-width="0.5"/>
<g class="tkr" font-size="4"><text x="698" y="692">20</text><text x="698" y="709">10</text><text x="698" y="726">0</text><text x="698" y="742">-10</text><text x="698" y="759">-20</text></g>
<g class="tkm" font-size="4.5"><text x="700" y="763">10</text><text x="731.7" y="763">20</text><text x="763.4" y="763">30</text><text x="795" y="763">40</text></g>
<text class="xls" x="748" y="772" font-size="5">Days post-implant</text>
<text class="xls" font-size="4" transform="translate(687,724) rotate(-90)">% Body Weight Change</text>
<polyline fill="none" stroke="#333" stroke-width="1" points="706,724 719,720 728,718 738,712 747,708 757,704 767,711 776,705 785,705"/>
<polyline fill="none" stroke="#5fb33a" stroke-width="1" points="706,724 719,729 728,731 738,728 747,726 757,726 767,724 776,722 785,724"/>
<g fill="#333"><circle cx="719" cy="720" r="1"/><circle cx="728" cy="718" r="1"/><circle cx="738" cy="712" r="1"/><circle cx="747" cy="708" r="1"/><circle cx="757" cy="704" r="1"/><circle cx="767" cy="711" r="1"/><circle cx="776" cy="705" r="1"/><circle cx="785" cy="705" r="1"/></g>
<path d="M706,710 L706,719 M704.4,717 L706,720 L707.6,717" stroke="#000" fill="none" stroke-width="1"/>
<text x="705" y="699" font-size="3.2">Dosing</text><text x="705" y="703" font-size="3.2">start</text>
<!-- GP2d waterfall -->
<text x="885" y="685" font-size="5.5" font-weight="bold" text-anchor="middle" fill="#222">End of Study Responses</text>
<line class="ax" x1="835" y1="694" x2="835" y2="762"/>
<g class="tkr" font-size="4"><text x="833" y="699">300</text><text x="833" y="715">200</text><text x="833" y="731">100</text><text x="833" y="748">0</text><text x="833" y="764">-100</text></g>
<text class="xls" font-size="4" transform="translate(818,728) rotate(-90)">% Change in Tumor Volume</text>
<rect x="850" y="697" width="47" height="49" fill="#000"/>
<path d="M897,746 L897,721 L901,721 L901,726 L906,726 L906,730 L911,730 L911,733 L916,733 L916,737 L921,737 L921,740 L926,740 L926,743 L931,743 L931,744.5 L937,744.5 L937,746 Z" fill="#4b8e1c"/>
<line x1="835" y1="746" x2="947" y2="746" stroke="#000" stroke-width="1"/>
<line x1="835" y1="759" x2="947" y2="759" stroke="#888" stroke-width="0.5" stroke-dasharray="1,1"/>
<!-- GP2d BW -->
<line class="ax" x1="968" y1="690" x2="968" y2="757"/><line class="ax" x1="968" y1="757" x2="1064" y2="757"/>
<line x1="968" y1="724" x2="1064" y2="724" stroke="#999" stroke-width="0.5"/>
<g class="tkr" font-size="4"><text x="966" y="692">20</text><text x="966" y="709">10</text><text x="966" y="726">0</text><text x="966" y="742">-10</text><text x="966" y="759">-20</text></g>
<g class="tkm" font-size="4.5"><text x="968" y="763">10</text><text x="992" y="763">20</text><text x="1016" y="763">30</text><text x="1040" y="763">40</text><text x="1064" y="763">50</text></g>
<text class="xls" x="1016" y="773" font-size="5">Days post-implant</text>
<text class="xls" font-size="4" transform="translate(955,724) rotate(-90)">% Body Weight Change</text>
<polyline fill="none" stroke="#333" stroke-width="1" points="975,723 982,722 990,723 998,725 1006,725 1014,725 1022,726 1030,726 1038,725 1046,727 1054,727"/>
<polyline fill="none" stroke="#5fb33a" stroke-width="1" points="975,724 982,725 990,726 998,729 1006,731 1014,731 1022,732 1030,731 1038,731 1046,732 1054,735"/>
<path d="M975,710 L975,719 M973.4,717 L975,720 L976.6,717" stroke="#000" fill="none" stroke-width="1"/>
<text x="973" y="699" font-size="3.2">Dosing</text><text x="973" y="703" font-size="3.2">start</text>
<g font-size="3.8" fill="#333"><text x="956" y="794">R= number of regressions &gt;10% from initial.</text><text x="956" y="800.5">CR = number of regressions &gt;80% from initial.</text><text x="956" y="807">Each animal represented as a separate bar.</text></g>
</svg>
</body></html>
